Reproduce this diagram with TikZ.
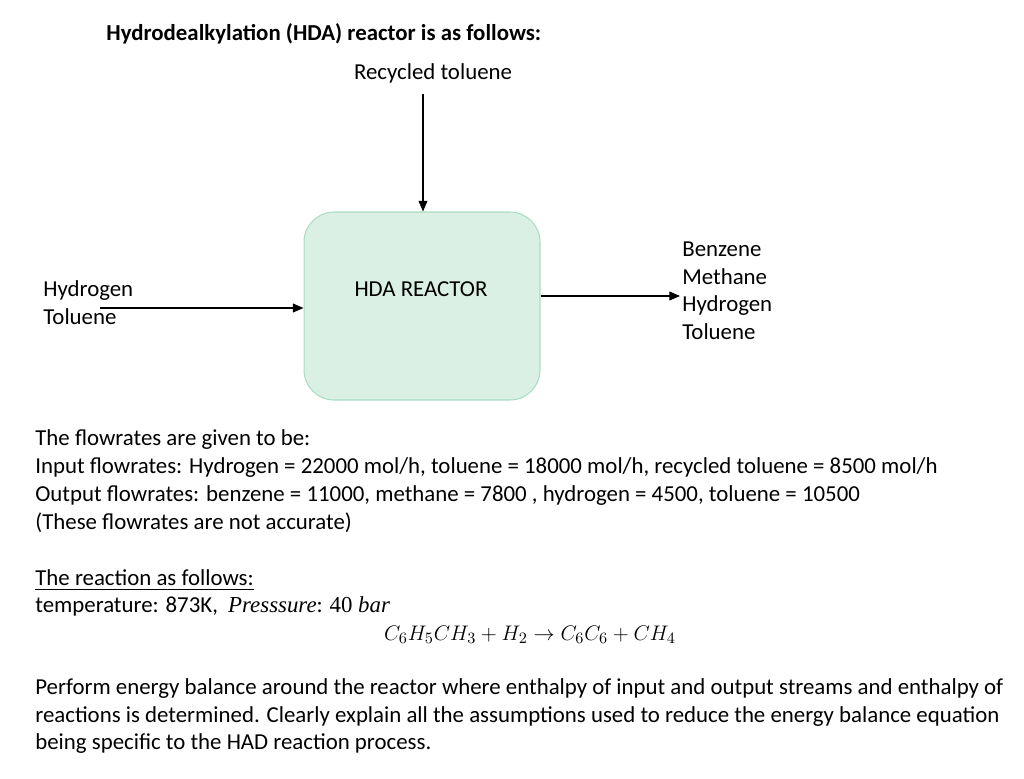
\documentclass[tikz,border=0pt]{standalone}
\usepackage{fontspec}
\setmainfont{Carlito}
\newfontfamily\eqserif{Liberation Serif}
\usetikzlibrary{arrows.meta,positioning}

\definecolor{reactorfill}{HTML}{DBF0E4}
\definecolor{reactorline}{HTML}{A9DDC2}

\tikzset{
  txt/.style={anchor=base west, inner sep=0pt, font=\fontsize{13}{15.9}\selectfont},
  flow/.style={-{Triangle[length=6pt,width=5pt]}, line width=0.6pt},
}

\begin{document}
\begin{tikzpicture}[x=0.02cm, y=-0.02cm]
                % Frame:
                \useasboundingbox (0, 0) rectangle (1024, 778);
                % Reactor and streams:
                \node[draw=reactorline, fill=reactorfill, rounded corners=0.6cm, line width=0.6pt,
                      minimum width=4.72cm, minimum height=3.76cm, inner sep=0pt](R) at (422, 306){};
                \node[txt, anchor=base](RL) at (421, 296){HDA REACTOR};
                \node[txt](T) at (106, 40){\bfseries Hydrodealkylation (HDA) reactor is as follows:};
                \node[txt, anchor=base](RT) at (433, 79){Recycled toluene};
                \coordinate (RTin) at (423, 94);
                \draw[flow] (RTin) -- (R.north -| RTin);
                \node[txt](H) at (43, 296){Hydrogen};
                \node[txt](Tol) at (43, 324){Toluene};
                \coordinate (Fin) at (100, 308);
                \draw[flow] (Fin) -- (R.west |- Fin);
                \coordinate (Pout) at (680, 296);
                \draw[flow] (R.east |- Pout) -- (Pout);
                \node[txt](P1) at (682, 256){Benzene};
                \node[txt](P2) at (682, 284){Methane};
                \node[txt](P3) at (682, 311){Hydrogen};
                \node[txt](P4) at (682, 339){Toluene};
                % Text below:
                \node[txt](L1) at (35, 445){The flowrates are given to be:};
                \node[txt](L2) at (35, 473){Input flowrates: Hydrogen = 22000 mol/h, toluene = 18000 mol/h, recycled toluene = 8500 mol/h};
                \node[txt](L3) at (35, 501){Output flowrates: benzene = 11000, methane = 7800 , hydrogen = 4500, toluene = 10500};
                \node[txt](L4) at (35, 529){(These flowrates are not accurate)};
                \node[txt](L5) at (35, 585){The reaction as follows:};
                \draw[line width=0.6pt] ([yshift=-2.5pt]L5.base west) -- ([yshift=-2.5pt]L5.base east);
                \node[txt](L6) at (35, 612){temperature: 873K,\ \ {\eqserif\itshape Presssure}: {\eqserif 40 \itshape bar}};
                \node[txt, anchor=base](EQ) at (530, 640){$C_6H_5CH_3 + H_2 \rightarrow C_6C_6 + CH_4$};
                \node[txt](L7) at (35, 694){Perform energy balance around the reactor where enthalpy of input and output streams and enthalpy of};
                \node[txt](L8) at (35, 722){reactions is determined. Clearly explain all the assumptions used to reduce the energy balance equation};
                \node[txt](L9) at (35, 749){being specific to the HAD reaction process.};
            \end{tikzpicture}
\end{document}
